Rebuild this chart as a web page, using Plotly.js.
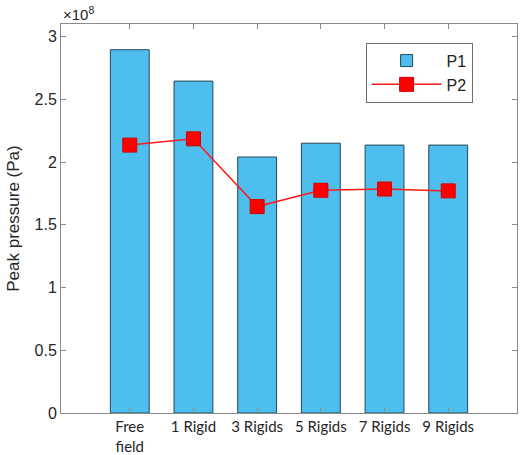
<!DOCTYPE html>
<html>
<head>
<meta charset="utf-8">
<script src="https://cdn.plot.ly/plotly-3.0.1.min.js"></script>
<style>
	html, body { margin: 0; padding: 0; background: #fff; }
	#grafico { width: 520px; height: 455px; }
</style>
</head>
<body>
<div id="grafico"></div>
<script>
// categorias (posições 1..6 no eixo x)
const casos = [1, 2, 3, 4, 5, 6];
const rotulos = ['Free<br>field', '1 Rigid', '3 Rigids', '5 Rigids', '7 Rigids', '9 Rigids'];

// pressões de pico (Pa)
const p1 = [2.895e8, 2.645e8, 2.04e8, 2.15e8, 2.135e8, 2.135e8];
const p2 = [2.135e8, 2.185e8, 1.645e8, 1.775e8, 1.785e8, 1.77e8];

// marcas do eixo y (mostradas em x10^8)
const yTicks = [0, 0.5e8, 1e8, 1.5e8, 2e8, 2.5e8, 3e8];
const yTickText = ['0', '0.5', '1', '1.5', '2', '2.5', '3'];

plot();
function plot() {
	const barras = {
		x: casos,
		y: p1,
		name: 'P1',
		type: 'bar',
		width: 0.61,
		marker: {
			color: '#4dbeee',
			line: { color: '#27465a', width: 1 }
		}
	};

	const linha = {
		x: casos,
		y: p2,
		name: 'P2',
		type: 'scatter',
		mode: 'lines+markers',
		line: { color: '#ff1a1a', width: 1.5 },
		marker: {
			symbol: 'square',
			size: 14,
			color: '#ff0000',
			line: { color: '#d40000', width: 1 }
		}
	};

	const fonte = 'Liberation Sans, Arial, sans-serif';

	const layout = {
		width: 520,
		height: 455,
		margin: { l: 61, r: 3, t: 24, b: 42 },
		paper_bgcolor: '#fff',
		plot_bgcolor: '#fff',
		showlegend: true,
		legend: {
			x: 0.668, y: 0.952,
			xanchor: 'left', yanchor: 'top',
			bgcolor: '#fff',
			bordercolor: '#707070',
			borderwidth: 1,
			font: { family: fonte, size: 16, color: '#222' },
			itemwidth: 70,
			tracegroupgap: 2
		},
		xaxis: {
			range: [-0.08, 7.08],
			tickvals: casos,
			ticktext: rotulos,
			ticks: 'inside',
			ticklen: 5,
			tickcolor: '#8a8a8a',
			showline: true,
			linecolor: '#8a8a8a',
			linewidth: 1,
			mirror: 'ticks',
			showgrid: false,
			zeroline: false,
			tickangle: 0,
			tickfont: { family: 'Lato, "Open Sans", sans-serif', size: 15, color: '#262626' }
		},
		yaxis: {
			range: [0, 3.1e8],
			tickvals: yTicks,
			ticktext: yTickText,
			ticks: 'inside',
			ticklen: 5,
			tickcolor: '#8a8a8a',
			showline: true,
			linecolor: '#8a8a8a',
			linewidth: 1,
			mirror: 'ticks',
			showgrid: false,
			zeroline: false,
			tickfont: { family: fonte, size: 16, color: '#262626' },
			title: {
				text: 'Peak pressure (Pa)',
				font: { family: fonte, size: 17, color: '#262626' },
				standoff: 10
			}
		},
		annotations: [{
			text: '×10<sup>8</sup>',
			xref: 'paper', yref: 'paper',
			x: 0, y: 1,
			xanchor: 'left', yanchor: 'bottom',
			yshift: -1,
			showarrow: false,
			font: { family: fonte, size: 15, color: '#262626' }
		}]
	};

	Plotly.newPlot('grafico', [barras, linha], layout, { displayModeBar: false, staticPlot: true });
}
</script>
</body>
</html>
